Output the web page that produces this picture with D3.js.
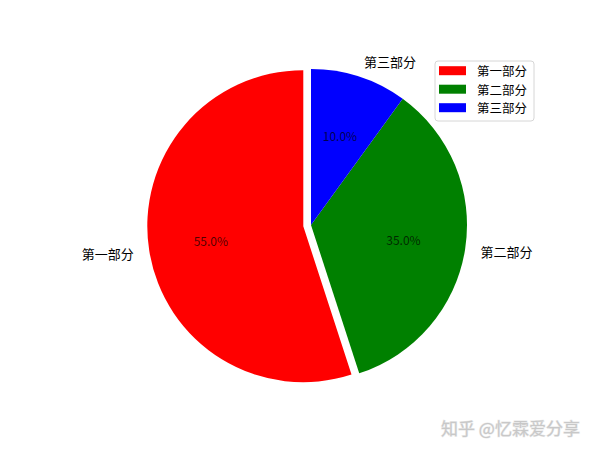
<!DOCTYPE html>
<html>
<head>
<meta charset="utf-8">
<script src="https://cdn.jsdelivr.net/npm/d3@7"></script>
<style>
  body { margin: 0; background: #fff; }
  text { font-family: "Noto Sans CJK SC", "DejaVu Sans", sans-serif; }
</style>
</head>
<body>
<div id="piechart"></div>
<script>
// Chart data
const labels = ["第一部分", "第二部分", "第三部分"];
const sizes = [55, 35, 10];

// Styles
const colors = ["#ff0000", "#008000", "#0000ff"];
const explode = [0.05, 0, 0];

const width = 600, height = 450;
const cx = 311, cy = 225, radius = 156;

const svg = d3.select("#piechart")
    .append("svg")
    .attr("width", width)
    .attr("height", height);

const data = labels.map((l, i) => ({ label: l, value: sizes[i], color: colors[i], explode: explode[i] }));

// Matplotlib style: start at 12 o'clock, counterclockwise
const pie = d3.pie()
    .sort(null)
    .value(d => d.value)
    .startAngle(0)
    .endAngle(-2 * Math.PI);

const arcs = pie(data);
const total = d3.sum(sizes);

const arc = d3.arc().innerRadius(0).outerRadius(radius);

// position along the middle of a wedge
function polar(a, r) {
    return [Math.sin(a) * r, -Math.cos(a) * r];
}

const g = svg.append("g")
    .attr("transform", `translate(${cx},${cy})`);

const slices = g.selectAll("g.slice")
    .data(arcs)
    .enter()
    .append("g")
    .attr("class", "slice")
    .attr("transform", d => {
        const mid = (d.startAngle + d.endAngle) / 2;
        const [dx, dy] = polar(mid, d.data.explode * radius);
        return `translate(${dx},${dy})`;
    });

slices.append("path")
    .attr("d", arc)
    .attr("fill", d => d.data.color);

// Outer labels
slices.append("text")
    .attr("x", d => polar((d.startAngle + d.endAngle) / 2, radius * 1.1)[0])
    .attr("y", d => polar((d.startAngle + d.endAngle) / 2, radius * 1.1)[1])
    .attr("text-anchor", d => polar((d.startAngle + d.endAngle) / 2, 1)[0] < 0 ? "end" : "start")
    .attr("dominant-baseline", "central")
    .attr("font-size", 13)
    .attr("fill", "#000")
    .text(d => d.data.label);

// Percent labels
slices.append("text")
    .attr("x", d => polar((d.startAngle + d.endAngle) / 2, radius * 0.6)[0])
    .attr("y", d => polar((d.startAngle + d.endAngle) / 2, radius * 0.6)[1])
    .attr("text-anchor", "middle")
    .attr("dominant-baseline", "central")
    .attr("font-size", 12)
    .attr("fill", "#000")
    .attr("fill-opacity", 0.7)
    .text(d => (d.data.value / total * 100).toFixed(1) + "%");

// Legend
const legend = svg.append("g")
    .attr("transform", "translate(435,61)");

legend.append("rect")
    .attr("width", 99)
    .attr("height", 60)
    .attr("rx", 3)
    .attr("fill", "#fff")
    .attr("fill-opacity", 0.8)
    .attr("stroke", "#d6d6d6");

const rowY = d3.scalePoint()
    .domain(labels)
    .range([9.7, 46.7]);

legend.selectAll("rect.key")
    .data(data)
    .enter()
    .append("rect")
    .attr("class", "key")
    .attr("x", 4)
    .attr("y", d => rowY(d.label) - 4.5)
    .attr("width", 27)
    .attr("height", 9)
    .attr("fill", d => d.color);

legend.selectAll("text.key")
    .data(data)
    .enter()
    .append("text")
    .attr("class", "key")
    .attr("x", 42)
    .attr("y", d => rowY(d.label))
    .attr("dominant-baseline", "central")
    .attr("font-size", 12.5)
    .attr("fill", "#000")
    .text(d => d.label);

// Watermark
svg.append("text")
    .attr("x", 441)
    .attr("y", 427)
    .attr("dominant-baseline", "central")
    .attr("font-size", 17)
    .attr("fill", "#c8c8c8")
    .style("paint-order", "stroke")
    .attr("stroke", "#e8e8e8")
    .attr("stroke-width", 1)
    .text("知乎 @忆霖爱分享");
</script>
</body>
</html>
